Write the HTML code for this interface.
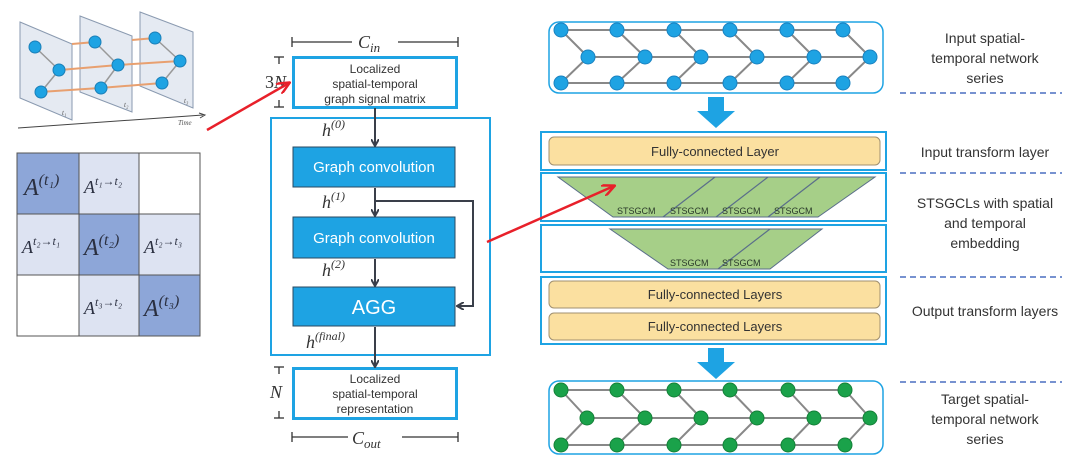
<!DOCTYPE html>
<html><head><meta charset="utf-8"><style>
html,body{margin:0;padding:0;background:#fff;}
svg{display:block;font-family:"Liberation Sans",sans-serif;}
.ser{font-family:"Liberation Serif",serif;font-style:italic;}
</style></head><body>
<svg width="1080" height="469" viewBox="0 0 1080 469" xmlns="http://www.w3.org/2000/svg">
<defs>
<marker id="ah" markerWidth="8" markerHeight="8" refX="6" refY="4" orient="auto" markerUnits="userSpaceOnUse"><path d="M0,0 L7,4 L0,8" fill="none" stroke="#3a3f4a" stroke-width="2"/></marker>
<marker id="rh" markerWidth="14" markerHeight="12" refX="12" refY="6" orient="auto" markerUnits="userSpaceOnUse"><path d="M0,0 L13,6 L0,12" fill="none" stroke="#e8202a" stroke-width="2.5"/></marker>
</defs>

<!-- Left 3D planes -->
<g stroke="#8a9ab0" stroke-width="1" fill="#dfe5ef" fill-opacity="0.8">
<polygon points="20,22 72,44 72,120 20,98"/>
<polygon points="80,16 132,36 132,112 80,92"/>
<polygon points="140,12 193,32 193,108 140,86"/>
</g>
<g stroke="#e8a070" stroke-width="2">
<line x1="72" y1="44" x2="95" y2="42"/><line x1="132" y1="40" x2="155" y2="38"/>
<line x1="60" y1="70" x2="118" y2="65"/><line x1="118" y1="65" x2="180" y2="61"/>
<line x1="40" y1="92" x2="100" y2="88"/><line x1="100" y1="88" x2="162" y2="83"/>
</g>
<g stroke="#999" stroke-width="1.5">
<line x1="35" y1="47" x2="59" y2="70"/><line x1="59" y1="70" x2="41" y2="92"/>
<line x1="95" y1="42" x2="118" y2="65"/><line x1="118" y1="65" x2="101" y2="88"/>
<line x1="155" y1="38" x2="180" y2="61"/><line x1="180" y1="61" x2="162" y2="83"/>
</g>
<g fill="#1ea3e3" stroke="#1a7fb8" stroke-width="1">
<circle cx="35" cy="47" r="6"/><circle cx="59" cy="70" r="6"/><circle cx="41" cy="92" r="6"/>
<circle cx="95" cy="42" r="6"/><circle cx="118" cy="65" r="6"/><circle cx="101" cy="88" r="6"/>
<circle cx="155" cy="38" r="6"/><circle cx="180" cy="61" r="6"/><circle cx="162" cy="83" r="6"/>
</g>
<g class="ser" font-size="7" fill="#555"><text x="62" y="115">t₁</text><text x="124" y="107">t₂</text><text x="184" y="103">t₃</text><text x="178" y="125">Time</text></g>
<line x1="18" y1="128" x2="203" y2="115" stroke="#444" stroke-width="1"/>
<path d="M199,113 L205,115 L200,118" fill="none" stroke="#444"/>

<!-- Matrix -->
<g stroke="#555" stroke-width="1">
<rect x="17" y="153" width="62" height="61" fill="#8da6d8"/>
<rect x="79" y="153" width="60" height="61" fill="#dde3f2"/>
<rect x="139" y="153" width="61" height="61" fill="#fff"/>
<rect x="17" y="214" width="62" height="61" fill="#dde3f2"/>
<rect x="79" y="214" width="60" height="61" fill="#8da6d8"/>
<rect x="139" y="214" width="61" height="61" fill="#dde3f2"/>
<rect x="17" y="275" width="62" height="61" fill="#fff"/>
<rect x="79" y="275" width="60" height="61" fill="#dde3f2"/>
<rect x="139" y="275" width="61" height="61" fill="#8da6d8"/>
</g>
<g fill="#2a2f40" font-family="Liberation Serif,serif" font-style="italic">
<text x="24" y="195" font-size="24">A<tspan font-size="16" dy="-10">(t₁)</tspan></text>
<text x="84" y="193" font-size="18">A<tspan font-size="12" dy="-8">t₁→t₂</tspan></text>
<text x="22" y="253" font-size="18">A<tspan font-size="12" dy="-8">t₂→t₁</tspan></text>
<text x="84" y="255" font-size="24">A<tspan font-size="16" dy="-10">(t₂)</tspan></text>
<text x="144" y="253" font-size="18">A<tspan font-size="12" dy="-8">t₂→t₃</tspan></text>
<text x="84" y="314" font-size="18">A<tspan font-size="12" dy="-8">t₃→t₂</tspan></text>
<text x="144" y="316" font-size="24">A<tspan font-size="16" dy="-10">(t₃)</tspan></text>
</g>

<!-- Middle -->
<g stroke="#333" stroke-width="1.3">
<line x1="292" y1="42" x2="352" y2="42"/><line x1="398" y1="42" x2="458" y2="42"/>
<line x1="292" y1="37" x2="292" y2="47"/><line x1="458" y1="37" x2="458" y2="47"/>
<line x1="292" y1="437" x2="348" y2="437"/><line x1="402" y1="437" x2="458" y2="437"/>
<line x1="292" y1="432" x2="292" y2="442"/><line x1="458" y1="432" x2="458" y2="442"/>
<line x1="274" y1="57" x2="284" y2="57"/><line x1="279" y1="57" x2="279" y2="64"/>
<line x1="274" y1="107" x2="284" y2="107"/><line x1="279" y1="100" x2="279" y2="107"/>
<line x1="274" y1="367" x2="284" y2="367"/><line x1="279" y1="367" x2="279" y2="374"/>
<line x1="274" y1="418" x2="284" y2="418"/><line x1="279" y1="411" x2="279" y2="418"/>
</g>
<g class="ser" fill="#333">
<text x="358" y="48" font-size="18">C<tspan font-size="13" dy="4">in</tspan></text>
<text x="352" y="444" font-size="18">C<tspan font-size="13" dy="4">out</tspan></text>
<text x="265" y="88" font-size="18" font-style="normal">3<tspan font-style="italic">N</tspan></text>
<text x="270" y="398" font-size="18">N</text>
</g>
<rect x="293.5" y="57.5" width="163" height="50" fill="#fff" stroke="#1ea3e3" stroke-width="3"/>
<rect x="293.5" y="368.5" width="163" height="50" fill="#fff" stroke="#1ea3e3" stroke-width="3"/>
<g font-size="12" fill="#333" text-anchor="middle"><text x="375" y="73">Localized</text><text x="375" y="88">spatial-temporal</text><text x="375" y="103">graph signal matrix</text>
<text x="375" y="383">Localized</text><text x="375" y="398">spatial-temporal</text><text x="375" y="413">representation</text></g>
<rect x="271" y="118" width="219" height="237" fill="none" stroke="#1ea3e3" stroke-width="2"/>
<g fill="#1ea3e3" stroke="#2a4a60" stroke-width="1">
<rect x="293" y="147" width="162" height="40"/><rect x="293" y="217" width="162" height="41"/><rect x="293" y="287" width="162" height="39"/>
</g>
<g fill="#fff" text-anchor="middle"><text x="374" y="172" font-size="15">Graph convolution</text><text x="374" y="243" font-size="15">Graph convolution</text><text x="374" y="314" font-size="20">AGG</text></g>
<g stroke="#3a3f4a" stroke-width="2" fill="none" marker-end="url(#ah)">
<line x1="375" y1="108" x2="375" y2="145"/><line x1="375" y1="188" x2="375" y2="215"/>
<line x1="375" y1="259" x2="375" y2="285"/><line x1="375" y1="327" x2="375" y2="366"/>
<polyline points="375,201 473,201 473,306 458,306"/>
</g>
<g class="ser" fill="#333" font-size="18">
<text x="322" y="136">h<tspan font-size="12" dy="-8">(0)</tspan></text>
<text x="322" y="208">h<tspan font-size="12" dy="-8">(1)</tspan></text>
<text x="322" y="276">h<tspan font-size="12" dy="-8">(2)</tspan></text>
<text x="306" y="348">h<tspan font-size="12" dy="-8">(final)</tspan></text>
</g>

<!-- Right -->
<rect x="549" y="22" width="334" height="71" rx="10" fill="#fff" stroke="#1ea3e3" stroke-width="1.5"/>
<rect x="549" y="381" width="334" height="73" rx="10" fill="#fff" stroke="#1ea3e3" stroke-width="1.5"/>
<g stroke="#888" stroke-width="2" fill="none">
<path d="M561,30 H845 M588,57 H870 M561,83 H845"/>
<path d="M561,30 L588,57 L561,83 M617,30 L645,57 L617,83 M674,30 L701,57 L674,83 M730,30 L757,57 L730,83 M787,30 L814,57 L787,83 M843,30 L870,57 L843,83"/>
<path d="M561,390 H845 M587,418 H870 M561,445 H845"/>
<path d="M561,390 L587,418 L561,445 M617,390 L645,418 L617,445 M674,390 L701,418 L674,445 M730,390 L757,418 L730,445 M788,390 L814,418 L788,445 M845,390 L870,418 L845,445"/>
</g>
<g fill="#1ea3e3" stroke="#1a82c0">
<circle cx="561" cy="30" r="7"/><circle cx="617" cy="30" r="7"/><circle cx="674" cy="30" r="7"/><circle cx="730" cy="30" r="7"/><circle cx="787" cy="30" r="7"/><circle cx="843" cy="30" r="7"/>
<circle cx="588" cy="57" r="7"/><circle cx="645" cy="57" r="7"/><circle cx="701" cy="57" r="7"/><circle cx="757" cy="57" r="7"/><circle cx="814" cy="57" r="7"/><circle cx="870" cy="57" r="7"/>
<circle cx="561" cy="83" r="7"/><circle cx="617" cy="83" r="7"/><circle cx="674" cy="83" r="7"/><circle cx="730" cy="83" r="7"/><circle cx="787" cy="83" r="7"/><circle cx="843" cy="83" r="7"/>
</g>
<g fill="#1aa24a" stroke="#148038">
<circle cx="561" cy="390" r="7"/><circle cx="617" cy="390" r="7"/><circle cx="674" cy="390" r="7"/><circle cx="730" cy="390" r="7"/><circle cx="788" cy="390" r="7"/><circle cx="845" cy="390" r="7"/>
<circle cx="587" cy="418" r="7"/><circle cx="645" cy="418" r="7"/><circle cx="701" cy="418" r="7"/><circle cx="757" cy="418" r="7"/><circle cx="814" cy="418" r="7"/><circle cx="870" cy="418" r="7"/>
<circle cx="561" cy="445" r="7"/><circle cx="617" cy="445" r="7"/><circle cx="674" cy="445" r="7"/><circle cx="730" cy="445" r="7"/><circle cx="788" cy="445" r="7"/><circle cx="845" cy="445" r="7"/>
</g>
<g fill="#1ea3e3">
<polygon points="708,97 724,97 724,111 735,111 716,128 697,111 708,111"/>
<polygon points="708,348 724,348 724,362 735,362 716,379 697,362 708,362"/>
</g>
<g fill="none" stroke="#1ea3e3" stroke-width="2">
<rect x="541" y="132" width="345" height="38"/>
<rect x="541" y="173" width="345" height="48"/>
<rect x="541" y="225" width="345" height="47"/>
<rect x="541" y="277" width="345" height="67"/>
</g>
<g fill="#fbe0a0" stroke="#a09070" stroke-width="1">
<rect x="549" y="137" width="331" height="28" rx="5"/>
<rect x="549" y="281" width="331" height="27" rx="5"/>
<rect x="549" y="313" width="331" height="27" rx="5"/>
</g>
<g font-size="13" fill="#333" text-anchor="middle">
<text x="715" y="156">Fully-connected Layer</text>
<text x="715" y="299">Fully-connected Layers</text>
<text x="715" y="331">Fully-connected Layers</text>
</g>
<g fill="#a6cf88" stroke="#5a6e8a" stroke-width="1">
<polygon points="558,177 875,177 818,217 613,217"/>
<polygon points="610,229 822,229 770,269 668,269"/>
</g>
<g stroke="#5a6e8a" stroke-width="1.2">
<line x1="663" y1="217" x2="715" y2="177"/><line x1="716" y1="217" x2="768" y2="177"/><line x1="768" y1="217" x2="820" y2="177"/>
<line x1="718" y1="269" x2="770" y2="229"/>
</g>
<g font-size="9" fill="#2a3a2a">
<text x="617" y="214">STSGCM</text><text x="670" y="214">STSGCM</text><text x="722" y="214">STSGCM</text><text x="774" y="214">STSGCM</text>
<text x="670" y="266">STSGCM</text><text x="722" y="266">STSGCM</text>
</g>

<!-- red arrows -->
<line x1="207" y1="130" x2="289" y2="83" stroke="#e8202a" stroke-width="2.5" marker-end="url(#rh)"/>
<line x1="487" y1="242" x2="614" y2="186" stroke="#e8202a" stroke-width="2.5" marker-end="url(#rh)"/>

<!-- right labels -->
<g font-size="14" fill="#333" text-anchor="middle">
<text x="985" y="43">Input spatial-</text><text x="985" y="63">temporal network</text><text x="985" y="83">series</text>
<text x="985" y="157">Input transform layer</text>
<text x="985" y="208">STSGCLs with spatial</text><text x="985" y="228">and temporal</text><text x="985" y="248">embedding</text>
<text x="985" y="316">Output transform layers</text>
<text x="985" y="404">Target spatial-</text><text x="985" y="424">temporal network</text><text x="985" y="444">series</text>
</g>
<g stroke="#4a6ec0" stroke-width="1.5" stroke-dasharray="6,4">
<line x1="900" y1="93" x2="1062" y2="93"/><line x1="900" y1="173" x2="1062" y2="173"/>
<line x1="900" y1="277" x2="1062" y2="277"/><line x1="900" y1="382" x2="1062" y2="382"/>
</g>
</svg>
</body></html>
